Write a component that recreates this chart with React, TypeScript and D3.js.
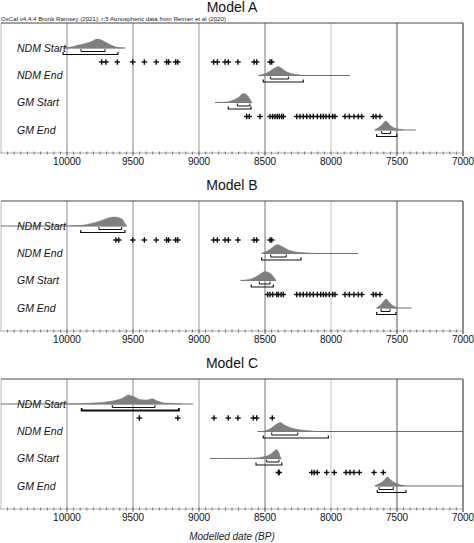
import React from "react";
import * as d3 from "d3";

// ---------- data ----------
const models = ["Model A", "Model B", "Model C"];
const rowLabels = ["NDM Start", "NDM End", "GM Start", "GM End"];
const majorTicks = [10000, 9500, 9000, 8500, 8000, 7500, 7000];
const subtitle = "OxCal v4.4.4 Bronk Ramsey (2021); r:5 Atmospheric data from Reimer et al (2020)";
const axisTitle = "Modelled date (BP)";

// Dated samples (BP) per model
const ndmDatesA = [9737, 9705, 9619, 9502, 9414, 9324, 9245, 9230, 9177, 9161, 8889, 8861, 8803, 8778, 8705, 8583, 8563, 8462, 8449];
const ndmDatesB = [9629, 9608, 9502, 9414, 9324, 9245, 9230, 9177, 9161, 8889, 8861, 8803, 8778, 8705, 8583, 8563, 8462, 8449];
const ndmDatesC = [9452, 9161, 8886, 8778, 8705, 8589, 8563, 8445];
const gmDatesA = [8639, 8619, 8538, 8462, 8442, 8424, 8407, 8392, 8374, 8361, 8260, 8235, 8210, 8184, 8159, 8134, 8104, 8078, 8058, 8038, 8013, 7987, 7970, 7894, 7861, 7826, 7793, 7767, 7680, 7659, 7629];
const gmDatesB = [8480, 8462, 8442, 8411, 8399, 8378, 8361, 8260, 8235, 8210, 8184, 8159, 8134, 8104, 8078, 8058, 8038, 8013, 7987, 7970, 7894, 7861, 7826, 7793, 7767, 7680, 7659, 7629];
const gmDatesC = [8398, 8392, 8146, 8127, 8104, 8033, 7975, 7886, 7856, 7826, 7786, 7674, 7604];

// Posterior densities: years and relative heights
const aNdmStartYears = [10015, 9962, 9924, 9864, 9811, 9773, 9750, 9720, 9689, 9659, 9629, 9598, 9568];
const aNdmStartDens = [0.03, 0.15, 0.3, 0.5, 0.75, 1, 0.95, 0.75, 0.5, 0.3, 0.12, 0.04, 0];
const aNdmEndYears = [8543, 8500, 8462, 8424, 8399, 8374, 8341, 8305, 8260, 8222];
const aNdmEndDens = [0.05, 0.2, 0.5, 0.85, 1, 0.8, 0.45, 0.25, 0.1, 0.03];
const aGmStartYears = [8879, 8803, 8765, 8727, 8695, 8664, 8639, 8619, 8606, 8598];
const aGmStartDens = [0, 0.05, 0.15, 0.35, 0.65, 1, 0.85, 0.5, 0.15, 0];
const aGmEndYears = [7667, 7642, 7616, 7586, 7561, 7536, 7502, 7452];
const aGmEndDens = [0.05, 0.25, 0.55, 1, 0.7, 0.35, 0.15, 0.05];

const bNdmStartYears = [9977, 9877, 9826, 9775, 9725, 9687, 9649, 9611, 9578, 9561, 9548];
const bNdmStartDens = [0.03, 0.1, 0.25, 0.45, 0.7, 0.9, 1, 0.95, 0.7, 0.3, 0];
const bNdmEndYears = [8525, 8487, 8449, 8407, 8366, 8323, 8273, 8210, 8121];
const bNdmEndDens = [0.05, 0.25, 0.6, 1, 0.75, 0.4, 0.2, 0.1, 0.03];
const bGmStartYears = [8684, 8626, 8576, 8538, 8500, 8467, 8437, 8417];
const bGmStartDens = [0.03, 0.1, 0.35, 0.7, 1, 0.85, 0.45, 0.05];
const bGmEndYears = [7654, 7624, 7604, 7583, 7558, 7533, 7498];
const bGmEndDens = [0.05, 0.35, 0.7, 1, 0.65, 0.3, 0.05];

const cNdmStartYears = [10002, 9902, 9801, 9725, 9649, 9586, 9536, 9498, 9447, 9396, 9351, 9320, 9270, 9207, 9131];
const cNdmStartDens = [0.01, 0.05, 0.12, 0.2, 0.35, 0.6, 1, 0.85, 0.5, 0.45, 0.58, 0.35, 0.15, 0.08, 0.02];
const cNdmEndYears = [8513, 8475, 8437, 8386, 8349, 8298, 8235, 8172, 8121];
const cNdmEndDens = [0.05, 0.2, 0.55, 1, 0.7, 0.4, 0.2, 0.1, 0.03];
const cGmStartYears = [8917, 8664, 8589, 8513, 8462, 8424, 8411, 8394, 8381, 8375];
const cGmStartDens = [0, 0.02, 0.05, 0.2, 0.45, 0.9, 1, 0.6, 0.1, 0];
const cGmEndYears = [7667, 7629, 7598, 7573, 7548, 7515, 7477, 7439];
const cGmEndDens = [0.05, 0.3, 0.65, 1, 0.7, 0.35, 0.15, 0.05];

// Thin probability tails [from, to]
const tailsA = [[10030, 9560], [8550, 7856], [8879, 8598], [7667, 7358]];
const tailsB = [[10500, 9548], [8525, 7793], [8684, 8417], [7654, 7389]];
const tailsC = [[10500, 9043], [8558, 7000], [8917, 8375], [7667, 7000]];

// 68.3% and 95.4% ranges
const range68A = [[9894, 9712], [8457, 8323], [8710, 8614], [7616, 7548]];
const range95A = [[10030, 9614], [8513, 8210], [8778, 8606], [7654, 7502]];
const range68B = [[9758, 9586], [8457, 8339], [8543, 8462], [7621, 7553]];
const range95B = [[9896, 9561], [8525, 8227], [8604, 8437], [7654, 7508]];
const range68C = [[9657, 9333], [8449, 8252], [8487, 8394], [7636, 7528]];
const range95C = [[9889, 9152], [8513, 8020], [8568, 8373], [7649, 7432]];

// ---------- build tables ----------
const zipDens = (ys: number[], ds: number[]) => ys.map((y, i) => ({ year: y, p: ds[i] }));
const modelData = [
  {
    dens: [zipDens(aNdmStartYears, aNdmStartDens), zipDens(aNdmEndYears, aNdmEndDens), zipDens(aGmStartYears, aGmStartDens), zipDens(aGmEndYears, aGmEndDens)],
    tails: tailsA, r68: range68A, r95: range95A, ndm: ndmDatesA, gm: gmDatesA,
  },
  {
    dens: [zipDens(bNdmStartYears, bNdmStartDens), zipDens(bNdmEndYears, bNdmEndDens), zipDens(bGmStartYears, bGmStartDens), zipDens(bGmEndYears, bGmEndDens)],
    tails: tailsB, r68: range68B, r95: range95B, ndm: ndmDatesB, gm: gmDatesB,
  },
  {
    dens: [zipDens(cNdmStartYears, cNdmStartDens), zipDens(cNdmEndYears, cNdmEndDens), zipDens(cGmStartYears, cGmStartDens), zipDens(cGmEndYears, cGmEndDens)],
    tails: tailsC, r68: range68C, r95: range95C, ndm: ndmDatesC, gm: gmDatesC,
  },
];

// ---------- layout ----------
const W = 474;
const H = 543;
const panelTops = [23, 201, 379];
const plotH = 130;
const rowBase = [25, 52.5, 79.5, 107];
const peakH = 9;
const x = d3.scaleLinear().domain([10500, 7000]).range([1, 463]);
const minorTicks = d3.range(10450, 7000, -50);
const gridColor: Record<number, string> = { 10000: "#9a9a9a", 9500: "#9a9a9a", 9000: "#aaaaaa", 8500: "#8a8a8a", 8000: "#cccccc", 7500: "#707070" };
const font = "'Liberation Sans', Arial, sans-serif";

function Cross({ cx, cy }: { cx: number; cy: number }) {
  return (
    <g stroke="#111" strokeWidth={1.4}>
      <line x1={cx - 2.8} x2={cx + 2.8} y1={cy} y2={cy} />
      <line x1={cx} x2={cx} y1={cy - 2.8} y2={cy + 2.8} />
    </g>
  );
}

function Bracket({ r, y, w }: { r: number[]; y: number; w: number }) {
  const x0 = x(r[0]);
  const x1 = x(r[1]);
  return <path d={`M${x0},${y - 2.5}V${y}H${x1}V${y - 2.5}`} fill="none" stroke="#111" strokeWidth={w} />;
}

function Panel({ idx }: { idx: number }) {
  const top = panelTops[idx];
  const md = modelData[idx];
  const axisY = top + plotH;
  return (
    <g>
      <text x={232} y={top - 11.5} textAnchor="middle" fontFamily={font} fontSize={14} fill="#111">{models[idx]}</text>
      {idx === 0 && (
        <text x={1} y={top - 2} fontFamily={font} fontSize={6} fill="#222" textLength={225} lengthAdjust="spacingAndGlyphs">{subtitle}</text>
      )}
      {/* grid */}
      {majorTicks.filter((t) => t > 7000).map((t) => (
        <line key={t} x1={x(t)} x2={x(t)} y1={top} y2={axisY + 3} stroke={gridColor[t]} strokeWidth={1.2} />
      ))}
      <line x1={x(10500)} x2={x(10500)} y1={top} y2={axisY} stroke="#c8c8c8" strokeWidth={1.2} />
      <line x1={x(10500)} x2={x(7000)} y1={top} y2={top} stroke="#444" strokeWidth={1.2} />
      <line x1={x(7000)} x2={x(7000)} y1={top} y2={axisY + 3} stroke="#444" strokeWidth={1.2} />
      <line x1={x(10500) - 1} x2={x(7000)} y1={axisY} y2={axisY} stroke="#777" strokeWidth={0.6} />
      {minorTicks.map((t) => (
        <line key={t} x1={x(t)} x2={x(t)} y1={axisY - 1.5} y2={axisY + 1.5} stroke="#555" strokeWidth={0.8} />
      ))}
      {majorTicks.map((t) => (
        <text key={t} x={x(t)} y={axisY + 11.5} textAnchor="middle" fontFamily={font} fontSize={10} fill="#111">{t}</text>
      ))}
      {/* rows */}
      {rowLabels.map((lab, i) => {
        const base = top + rowBase[i];
        const area = d3
          .area<{ year: number; p: number }>()
          .x((d) => x(d.year))
          .y0(base)
          .y1((d) => base - d.p * peakH)
          .curve(d3.curveMonotoneX);
        const tail = md.tails[i];
        return (
          <g key={lab}>
            <line x1={x(tail[0])} x2={x(tail[1])} y1={base} y2={base} stroke="#5f5f5f" strokeWidth={0.9} />
            <path d={area(md.dens[i]) || ""} fill="#7f7f7f" stroke="#7f7f7f" strokeWidth={0.4} />
            <text x={17} y={base + 3.5} fontFamily={font} fontStyle="italic" fontSize={10.5} fill="#111">{lab}</text>
            <Bracket r={md.r68[i]} y={base + 3.5} w={1} />
            <Bracket r={md.r95[i]} y={base + 6.5} w={idx === 2 && i === 0 ? 1.8 : 1.2} />
          </g>
        );
      })}
      {md.ndm.map((d, k) => (
        <Cross key={"n" + k} cx={x(d)} cy={top + rowBase[0] + 14} />
      ))}
      {md.gm.map((d, k) => (
        <Cross key={"g" + k} cx={x(d)} cy={top + rowBase[2] + 14} />
      ))}
    </g>
  );
}

export default function App() {
  return (
    <svg width={W} height={H} style={{ position: "absolute", left: 0, top: 0, background: "#fff" }}>
      <rect width={W} height={H} fill="#fff" />
      {models.map((m, i) => (
        <Panel key={m} idx={i} />
      ))}
      <text x={232} y={540} textAnchor="middle" fontFamily={font} fontStyle="italic" fontSize={10} fill="#222">{axisTitle}</text>
    </svg>
  );
}
